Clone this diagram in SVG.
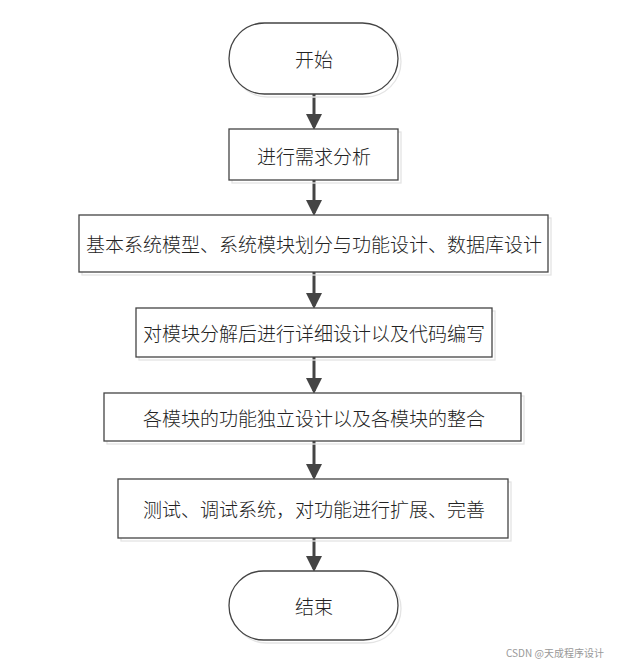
<svg xmlns="http://www.w3.org/2000/svg" width="626" height="667" viewBox="0 0 626 667">
<style>
.n{fill:#fff;stroke:#444;stroke-width:1.3}
.s{fill:none;stroke:#e4e4e4;stroke-width:1.3}
.t{font-family:"Noto Sans CJK SC",sans-serif;font-size:19px;font-weight:300;fill:#222;text-anchor:middle;dominant-baseline:central}
.c{stroke:#444;stroke-width:3;fill:none}
</style>
<defs><marker id="a" markerWidth="5.5" markerHeight="5.5" refX="4.5" refY="2.75" orient="auto" markerUnits="strokeWidth"><path d="M0,0L5.5,2.75L0,5.5z" fill="#444"/></marker></defs>
<rect width="626" height="667" fill="#fff"/>
<g id="connectors">
<line class="c" x1="314" y1="94" x2="314" y2="127" marker-end="url(#a)"/>
<line class="c" x1="314" y1="180" x2="314" y2="213" marker-end="url(#a)"/>
<line class="c" x1="314" y1="272" x2="314" y2="306" marker-end="url(#a)"/>
<line class="c" x1="314" y1="357" x2="314" y2="391" marker-end="url(#a)"/>
<line class="c" x1="314" y1="441" x2="314" y2="477" marker-end="url(#a)"/>
<line class="c" x1="314" y1="538" x2="314" y2="569" marker-end="url(#a)"/>
</g>
<g id="start"><rect class="s" x="232" y="26" width="169" height="71" rx="35.5"/><rect class="n" x="229" y="23" width="169" height="71" rx="35.5"/><text class="t" x="314" y="58">开始</text></g>
<g id="n1"><rect class="s" x="232" y="132" width="169" height="51"/><rect class="n" x="229" y="129" width="169" height="51"/><text class="t" x="314" y="155">进行需求分析</text></g>
<g id="n2"><rect class="s" x="82" y="218" width="469" height="57"/><rect class="n" x="79" y="215" width="469" height="57"/><text class="t" x="314" y="243">基本系统模型、系统模块划分与功能设计、数据库设计</text></g>
<g id="n3"><rect class="s" x="139" y="311" width="356" height="49"/><rect class="n" x="136" y="308" width="356" height="49"/><text class="t" x="314" y="332">对模块分解后进行详细设计以及代码编写</text></g>
<g id="n4"><rect class="s" x="107" y="396" width="417" height="48"/><rect class="n" x="104" y="393" width="417" height="48"/><text class="t" x="314" y="417">各模块的功能独立设计以及各模块的整合</text></g>
<g id="n5"><rect class="s" x="121" y="482" width="390" height="59"/><rect class="n" x="118" y="479" width="390" height="59"/><text class="t" x="314" y="508">测试、调试系统，对功能进行扩展、完善</text></g>
<g id="end"><rect class="s" x="232" y="574" width="169" height="69" rx="34.5"/><rect class="n" x="229" y="571" width="169" height="69" rx="34.5"/><text class="t" x="314" y="605">结束</text></g>
<text x="506" y="657" style="font-family:'Noto Sans CJK SC',sans-serif;font-size:10px;fill:#999">CSDN @天成程序设计</text>
</svg>
